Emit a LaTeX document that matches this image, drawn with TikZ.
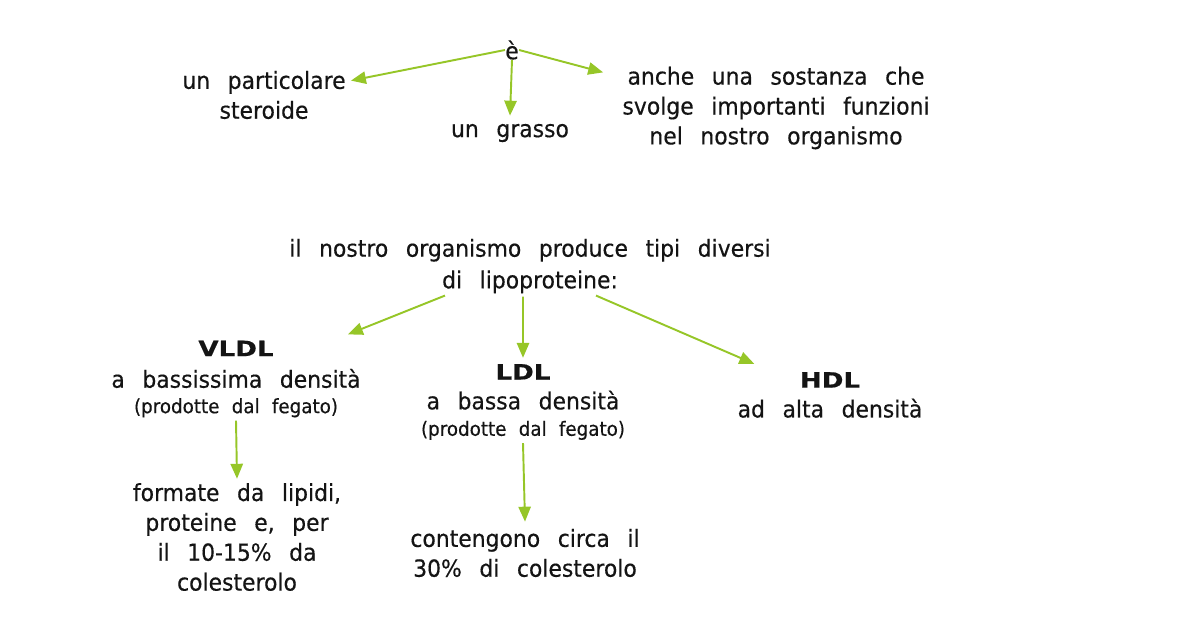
\documentclass[tikz,border=0pt]{standalone}
\usepackage{fontspec}
\setmainfont{DejaVu Sans}[FakeStretch=0.93, FakeBold=0.4]
\newfontface\grassetto{DejaVu Sans Bold}[FakeStretch=1.24, FakeBold=0.5]
\usetikzlibrary{arrows.meta}
\definecolor{verde}{RGB}{150,198,40}
\definecolor{testo}{RGB}{20,20,20}
\newcommand\corpo{\fontsize{13.4}{17}\selectfont\spaceskip=10pt plus 1pt\relax}
\newcommand\piccolo{\fontsize{11.2}{15}\selectfont\spaceskip=7pt plus 1pt\relax}
\newcommand\sigla[1]{{\fontsize{12}{17}\grassetto #1}}
\tikzset{
  concetto/.style={align=center, inner sep=0pt, text=testo, font=\corpo},
  freccia/.style={draw=verde, line width=1.1pt, -{Triangle[length=8.5pt,width=7pt]}},
}
\begin{document}
\begin{tikzpicture}[x=0.02cm,y=-0.02cm]
  \useasboundingbox (0,0) rectangle (1200,630);

  % prima mappa
  \node[concetto] (e) at (512,50) {è};
  \node[concetto] (steroide) at (264,95) {un particolare\\steroide};
  \node[concetto] (grasso) at (510,133) {un grasso};
  \node[concetto] (sostanza) at (776,108) {anche una sostanza che\\svolge importanti funzioni\\nel nostro organismo};

  \draw[freccia] (e.west) -- ([xshift=0.1cm,yshift=-0.2cm]steroide.north east);
  \draw[freccia] (e.south) -- ([yshift=0.16cm]grasso.north);
  \draw[freccia] (e.east) -- ([xshift=-0.38cm,yshift=-0.12cm]sostanza.north west);

  % seconda mappa
  \node[concetto] (lipo) at (530,266) {il nostro organismo produce tipi diversi\\[1pt]di lipoproteine:};
  \node[concetto] (vldl) at (236,379) {\sigla{VLDL}\\[1pt]a bassissima densità\\[-2.5pt]{\piccolo (prodotte dal fegato)}};
  \node[concetto] (ldl) at (523,402) {\sigla{LDL}\\a bassa densità\\[-2pt]{\piccolo (prodotte dal fegato)}};
  \node[concetto] (hdl) at (830,395) {\sigla{HDL}\\ad alta densità};
  \node[concetto] (formate) at (237,537) {formate da lipidi,\\proteine e, per\\il 10-15\% da\\colesterolo};
  \node[concetto] (contengono) at (525,553) {contengono circa il\\30\% di colesterolo};

  \draw[freccia] ([xshift=-1.7cm,yshift=-0.04cm]lipo.south) -- ([xshift=-0.26cm,yshift=0.12cm]vldl.north east);
  \draw[freccia] ([xshift=-0.14cm,yshift=-0.06cm]lipo.south) -- ([yshift=0.12cm]ldl.north);
  \draw[freccia] ([xshift=1.32cm,yshift=-0.04cm]lipo.south) -- ([xshift=0.34cm,yshift=0.16cm]hdl.north west);
  \draw[freccia] ([yshift=-0.06cm]vldl.south) -- ([yshift=0.08cm]formate.north);
  \draw[freccia] ([yshift=-0.06cm]ldl.south) -- ([yshift=0.14cm]contengono.north);
\end{tikzpicture}
\end{document}
